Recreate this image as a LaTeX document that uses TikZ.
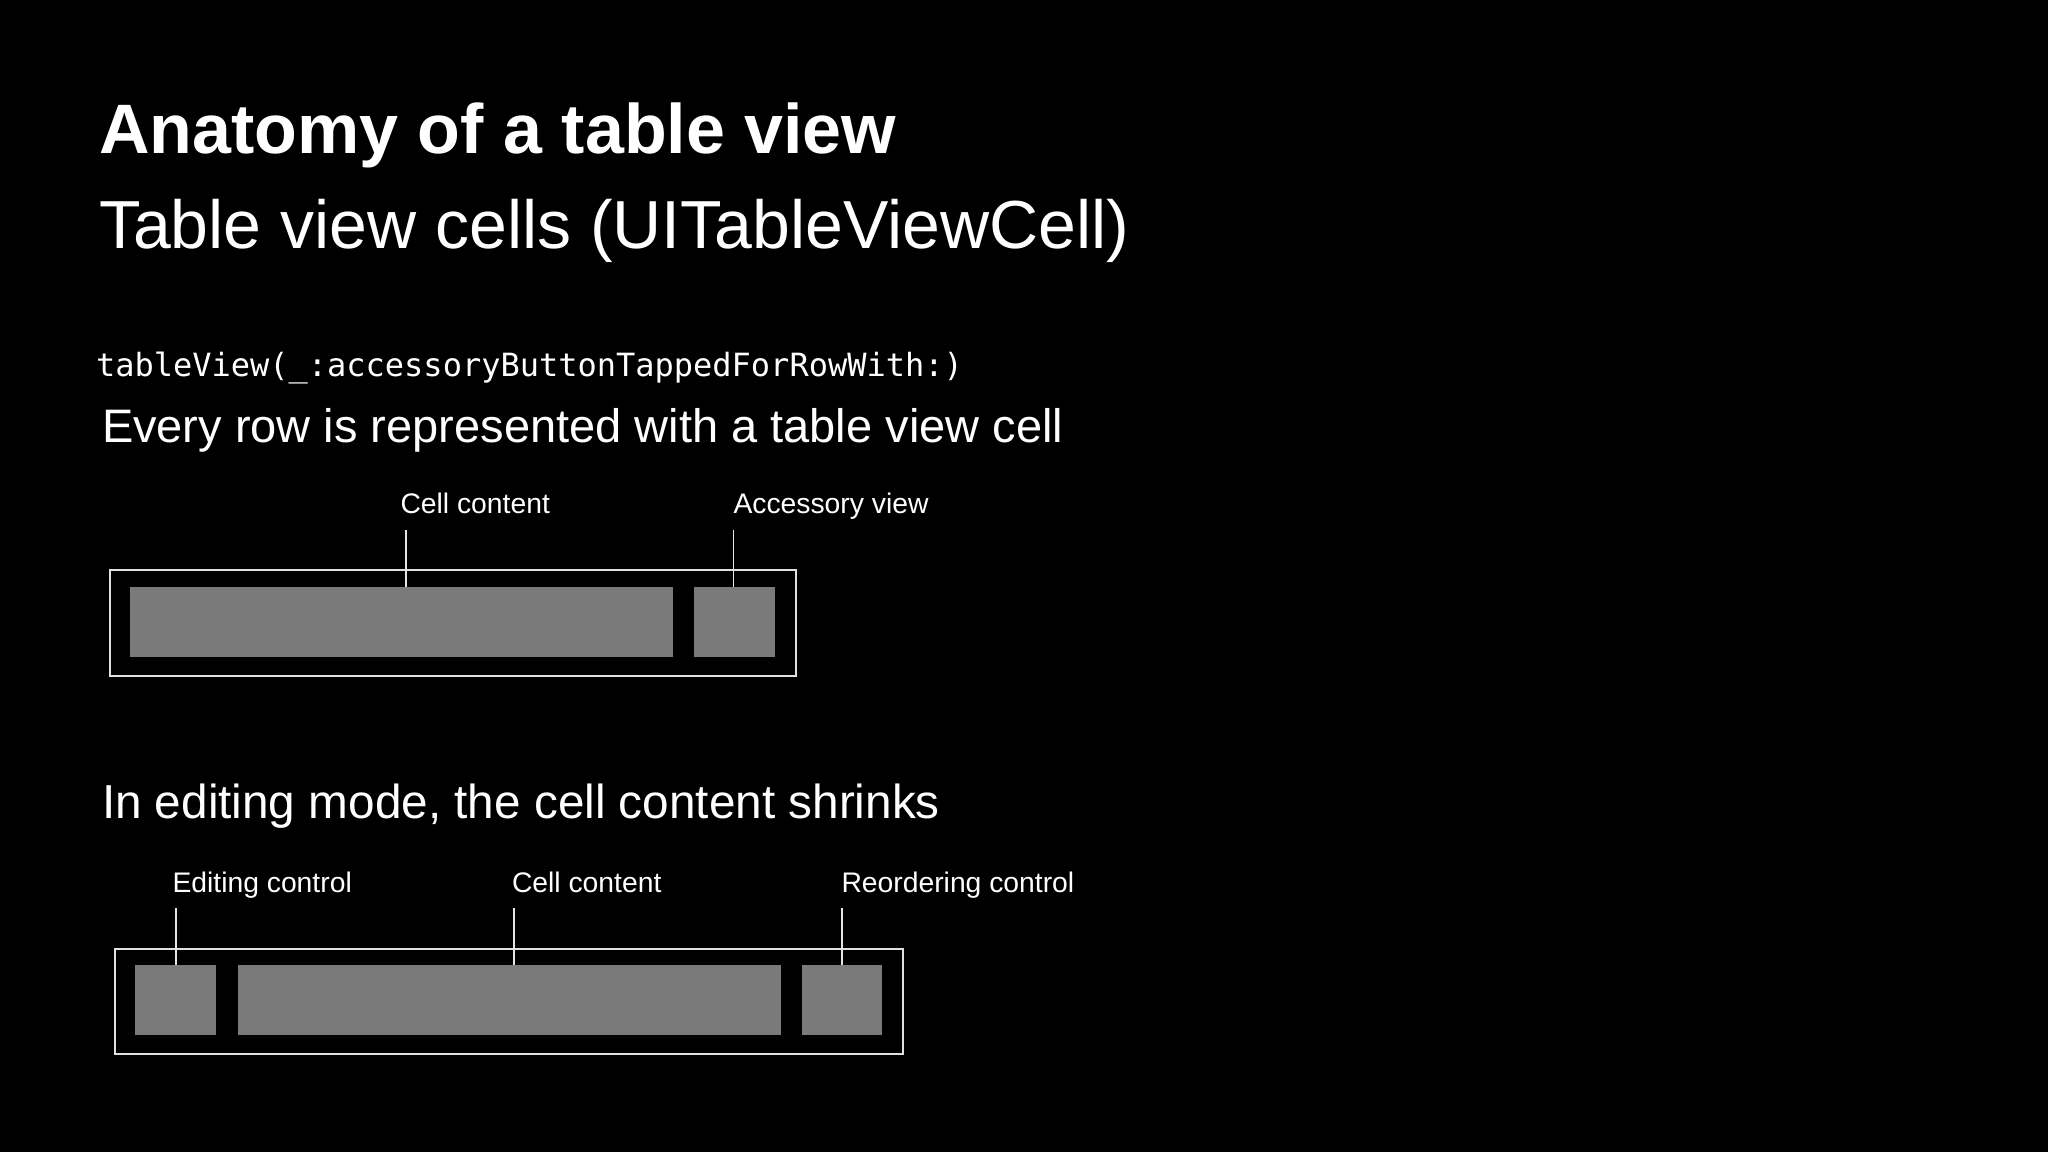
\documentclass[tikz,border=0pt]{standalone}
\usepackage{fontspec}
\setmainfont{Liberation Sans}
\setmonofont{DejaVu Sans Mono}
\definecolor{boxgray}{HTML}{7A7A7A}
\definecolor{framecol}{HTML}{E0E0E0}
\tikzset{
  txt/.style={anchor=base west, inner sep=0pt, outer sep=0pt, text=white},
  label/.style={txt, font=\fontsize{28.3}{32}\selectfont},
  frame/.style={draw=framecol, line width=2pt},
  block/.style={fill=boxgray, draw=none, anchor=north west, inner sep=0pt, outer sep=0pt},
  leader/.style={draw=white!90!black, line width=1.6pt},
}
\begin{document}
\begin{tikzpicture}[x=1pt,y=-1pt]
\useasboundingbox[fill=black] (0,0) rectangle (2048,1152);

% titles
\node[txt, font=\fontsize{70}{80}\bfseries\selectfont] (title) at (99,153) {Anatomy of a table view};
\node[txt, font=\fontsize{68}{80}\selectfont] (sub) at (99,248) {Table view cells (UITableViewCell)};
\node[txt, font=\fontsize{32}{38}\ttfamily\selectfont] (code) at (96,376) {tableView(\_:accessoryButtonTappedForRowWith:)};
\node[txt, font=\fontsize{47}{56}\selectfont] (every) at (102,442) {Every row is represented with a table view cell};
\node[txt, font=\fontsize{47.7}{56}\selectfont] (edit) at (102,818) {In editing mode, the cell content shrinks};

% ---- diagram 1
\node[frame, anchor=north west, inner sep=0pt, minimum width=686.5pt, minimum height=106pt] (cell1) at (108.5,568.5) {};
\node[block, minimum width=543pt, minimum height=70.5pt] (content1) at (129.5,586.5) {};
\node[block, minimum width=81pt, minimum height=70.5pt] (acc1) at (693.5,586.5) {};
\node[label] (lcontent1) at (400.5,513) {Cell content};
\node[label] (lacc1) at (733.5,513) {Accessory view};
\coordinate (t1) at (406,530);
\coordinate (t2) at (733.5,530);
\draw[leader] (t1) -- (t1 |- content1.north);
\draw[leader] (t2) -- (t2 |- acc1.north);

% ---- diagram 2
\node[frame, anchor=north west, inner sep=0pt, minimum width=788pt, minimum height=105.5pt] (cell2) at (114,947.5) {};
\node[block, minimum width=80.5pt, minimum height=70pt] (editc) at (135,965.3) {};
\node[block, minimum width=543pt, minimum height=70pt] (content2) at (238,965.3) {};
\node[block, minimum width=80.5pt, minimum height=70pt] (reord) at (801.5,965.3) {};
\node[label] (ledit) at (172.5,892) {Editing control};
\node[label] (lcontent2) at (512,892) {Cell content};
\node[label] (lreord) at (841.5,892) {Reordering control};
\coordinate (u1) at (176,908);
\coordinate (u2) at (514,908);
\coordinate (u3) at (842,908);
\draw[leader] (u1) -- (u1 |- editc.north);
\draw[leader] (u2) -- (u2 |- content2.north);
\draw[leader] (u3) -- (u3 |- reord.north);
\end{tikzpicture}
\end{document}
